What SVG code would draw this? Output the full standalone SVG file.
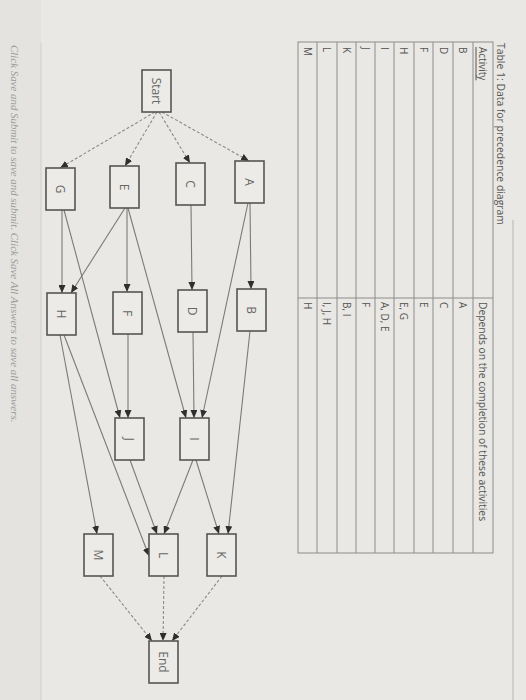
<svg xmlns="http://www.w3.org/2000/svg" width="526" height="700" viewBox="0 0 526 700">
<defs>
<marker id="ah" markerWidth="8" markerHeight="7" refX="8" refY="3.5" orient="auto" markerUnits="userSpaceOnUse"><path d="M0,0 L8,3.5 L0,7 z" fill="#2f2f2f"/></marker>
<style>
.box{fill:#ecebe7;stroke:#555;stroke-width:1.6}
.lbl{font-family:"Open Sans","Liberation Sans",sans-serif;font-size:12px;fill:#666;text-anchor:middle;dominant-baseline:central}
.e{stroke:#7a7a7a;stroke-width:1.1;fill:none;marker-end:url(#ah)}
.d{stroke:#8a8a8a;stroke-width:1.1;fill:none;stroke-dasharray:3,2;marker-end:url(#ah)}
.tl{stroke:#8c8c8c;stroke-width:1;fill:none}
.tt{font-family:"Open Sans","Liberation Sans",sans-serif;font-size:10px;fill:#555;dominant-baseline:central}
.ft{font-family:"Liberation Serif",serif;font-style:italic;font-size:10.9px;fill:#9a9a9a;dominant-baseline:central}
</style>
</defs>
<rect x="0" y="0" width="526" height="700" fill="#e9e8e4"/>
<rect x="0" y="0" width="41" height="700" fill="#e4e3df"/>
<line x1="41" y1="43" x2="41" y2="700" stroke="#d0cfcb" stroke-width="1"/>
<line x1="513" y1="220" x2="513" y2="700" stroke="#b5b5b2" stroke-width="1"/>

<g id="table">
<rect x="298" y="42" width="195" height="511" class="tl"/>
<line class="tl" x1="317" y1="42" x2="317" y2="553"/>
<line class="tl" x1="337" y1="42" x2="337" y2="553"/>
<line class="tl" x1="356" y1="42" x2="356" y2="553"/>
<line class="tl" x1="375" y1="42" x2="375" y2="553"/>
<line class="tl" x1="394" y1="42" x2="394" y2="553"/>
<line class="tl" x1="414" y1="42" x2="414" y2="553"/>
<line class="tl" x1="433" y1="42" x2="433" y2="553"/>
<line class="tl" x1="453" y1="42" x2="453" y2="553"/>
<line class="tl" x1="473" y1="42" x2="473" y2="553"/>
<line class="tl" x1="298" y1="298" x2="493" y2="298"/>
<text class="tt" style="font-size:10.4px" transform="translate(500.5,43) rotate(90)">Table 1: Data for precedence diagram</text>
<text class="tt" transform="translate(482.5,47) rotate(90)" text-decoration="underline">Activity</text>
<text class="tt" style="font-size:10.3px" transform="translate(482.5,302) rotate(90)">Depends on the completion of these activities</text>
<text class="tt" transform="translate(463,47) rotate(90)">B</text>
<text class="tt" transform="translate(443.5,47) rotate(90)">D</text>
<text class="tt" transform="translate(423.5,47) rotate(90)">F</text>
<text class="tt" transform="translate(404,47) rotate(90)">H</text>
<text class="tt" transform="translate(384.5,47) rotate(90)">I</text>
<text class="tt" transform="translate(365.5,47) rotate(90)">J</text>
<text class="tt" transform="translate(346.5,47) rotate(90)">K</text>
<text class="tt" transform="translate(327,47) rotate(90)">L</text>
<text class="tt" transform="translate(307.5,47) rotate(90)">M</text>
<text class="tt" transform="translate(463,302) rotate(90)">A</text>
<text class="tt" transform="translate(443.5,302) rotate(90)">C</text>
<text class="tt" transform="translate(423.5,302) rotate(90)">E</text>
<text class="tt" transform="translate(404,302) rotate(90)">E, G</text>
<text class="tt" transform="translate(384.5,302) rotate(90)">A, D, E</text>
<text class="tt" transform="translate(365.5,302) rotate(90)">F</text>
<text class="tt" transform="translate(346.5,302) rotate(90)">B, I</text>
<text class="tt" transform="translate(327,302) rotate(90)">I, J, H</text>
<text class="tt" transform="translate(307.5,302) rotate(90)">H</text>
</g>

<g id="connectors">
<line class="d" x1="155" y1="112" x2="60" y2="168"/>
<line class="d" x1="157" y1="112" x2="125" y2="166"/>
<line class="d" x1="159" y1="112" x2="190" y2="163"/>
<line class="d" x1="162" y1="112" x2="249" y2="161"/>
<line class="e" x1="250" y1="203" x2="251" y2="289"/>
<line class="e" x1="248" y1="203" x2="202" y2="418"/>
<line class="e" x1="191" y1="205" x2="192" y2="290"/>
<line class="e" x1="127" y1="208" x2="127" y2="292"/>
<line class="e" x1="125" y1="208" x2="71" y2="293"/>
<line class="e" x1="128" y1="208" x2="186" y2="418"/>
<line class="e" x1="62" y1="210" x2="62" y2="293"/>
<line class="e" x1="64" y1="210" x2="120" y2="418"/>
<line class="e" x1="193" y1="332" x2="194" y2="418"/>
<line class="e" x1="128" y1="334" x2="128" y2="418"/>
<line class="e" x1="250" y1="331" x2="228" y2="534"/>
<line class="e" x1="196" y1="460" x2="219" y2="534"/>
<line class="e" x1="193" y1="460" x2="164" y2="534"/>
<line class="e" x1="130" y1="460" x2="157" y2="534"/>
<line class="e" x1="64" y1="335" x2="149" y2="556"/>
<line class="e" x1="60" y1="335" x2="97" y2="534"/>
<line class="d" x1="100" y1="576" x2="152" y2="641"/>
<line class="d" x1="164" y1="576" x2="163" y2="641"/>
<line class="d" x1="222" y1="576" x2="172" y2="641"/>
</g>

<g id="node-Start"><rect class="box" x="142" y="70" width="29" height="42"/><text class="lbl" transform="translate(156.5,91) rotate(90)">Start</text></g>
<g id="node-A"><rect class="box" x="235" y="161" width="29" height="42"/><text class="lbl" transform="translate(249.5,182) rotate(90)">A</text></g>
<g id="node-C"><rect class="box" x="176" y="163" width="29" height="42"/><text class="lbl" transform="translate(190.5,184) rotate(90)">C</text></g>
<g id="node-E"><rect class="box" x="110" y="166" width="29" height="42"/><text class="lbl" transform="translate(124.5,187) rotate(90)">E</text></g>
<g id="node-G"><rect class="box" x="46" y="168" width="29" height="42"/><text class="lbl" transform="translate(60.5,189) rotate(90)">G</text></g>
<g id="node-B"><rect class="box" x="237" y="289" width="29" height="42"/><text class="lbl" transform="translate(251.5,310) rotate(90)">B</text></g>
<g id="node-D"><rect class="box" x="178" y="290" width="29" height="42"/><text class="lbl" transform="translate(192.5,311) rotate(90)">D</text></g>
<g id="node-F"><rect class="box" x="113" y="292" width="29" height="42"/><text class="lbl" transform="translate(127.5,313) rotate(90)">F</text></g>
<g id="node-H"><rect class="box" x="47" y="293" width="29" height="42"/><text class="lbl" transform="translate(61.5,314) rotate(90)">H</text></g>
<g id="node-I"><rect class="box" x="180" y="418" width="29" height="42"/><text class="lbl" transform="translate(194.5,439) rotate(90)">I</text></g>
<g id="node-J"><rect class="box" x="115" y="418" width="29" height="42"/><text class="lbl" transform="translate(129.5,439) rotate(90)">J</text></g>
<g id="node-K"><rect class="box" x="207" y="534" width="29" height="42"/><text class="lbl" transform="translate(221.5,555) rotate(90)">K</text></g>
<g id="node-L"><rect class="box" x="149" y="534" width="29" height="42"/><text class="lbl" transform="translate(163.5,555) rotate(90)">L</text></g>
<g id="node-M"><rect class="box" x="84" y="534" width="29" height="42"/><text class="lbl" transform="translate(98.5,555) rotate(90)">M</text></g>
<g id="node-End"><rect class="box" x="149" y="641" width="29" height="42"/><text class="lbl" transform="translate(163.5,662) rotate(90)">End</text></g>

<text class="ft" transform="translate(15,45) rotate(90)">Click Save and Submit to save and submit. Click Save All Answers to save all answers.</text>
</svg>
